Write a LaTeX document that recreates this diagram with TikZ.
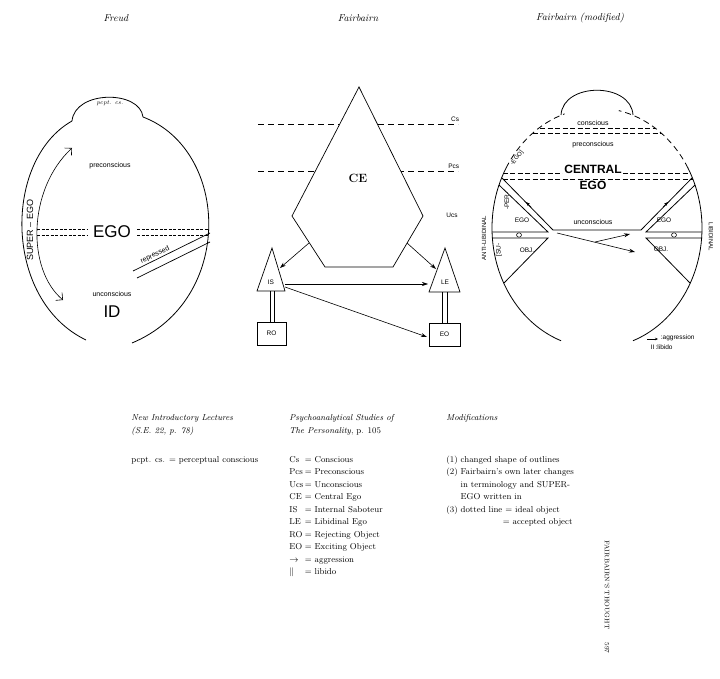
\documentclass[tikz,border=0pt]{standalone}
\usepackage{fontspec}
\setsansfont{Liberation Sans}
\usetikzlibrary{arrows.meta}
\begin{document}
\begin{tikzpicture}[x=1pt,y=-1pt,line width=0.8pt,
  lbl/.style={font=\sffamily\fontsize{6.5}{7}\selectfont,inner sep=0.5pt},
  big/.style={font=\sffamily\fontsize{17}{18}\selectfont,inner sep=1pt,fill=white},
  ttl/.style={font=\itshape\fontsize{10}{12}\selectfont},
  body/.style={font=\fontsize{8.6}{12.5}\selectfont,anchor=base west,inner sep=0pt,align=left},
  dsh/.style={dash pattern=on 6pt off 4pt},
  sdsh/.style={line width=0.6pt,dash pattern=on 3pt off 1.5pt},
  arr/.style={-{Stealth[length=6pt,width=4pt]},line width=0.6pt}]
\useasboundingbox (0,0) rectangle (720,679);
% titles
\node[ttl] (t1) at (116,18) {Freud};
\node[ttl] (t2) at (358,18) {Fairbairn};
\node[ttl] (t3) at (580,18) {Fairbairn (modified)};

% ===== Freud =====
\coordinate (fl) at (72,121); \coordinate (fr) at (143,117);
\coordinate (fbl) at (86,340); \coordinate (fbr) at (132,343);
\draw (fl) .. controls (75,90) and (140,90) .. (fr);
\draw (fl) .. controls (3,160) and (3,300) .. (fbl);
\draw (fr) .. controls (230,150) and (235,300) .. (fbr);
\node[font=\itshape\fontsize{6}{7}\selectfont] (pcpt) at (110,103) {pcpt. cs.};
\coordinate (sa) at (72,148); \coordinate (sb) at (63,300);
\draw[{Straight Barb[length=5pt]}-{Straight Barb[length=5pt]},line width=0.6pt] (sa) .. controls (27,190) and (27,270) .. (sb);
\node[lbl,font=\sffamily\fontsize{9}{10}\selectfont,rotate=90] (se) at (30,230) {SUPER -- EGO};
\node[lbl,font=\sffamily\fontsize{7}{8}\selectfont] (precs) at (110,166) {preconscious};
\draw[sdsh] (37,229) -- (88,229) (37,235) -- (88,235) (137,229) -- (209,229) (137,235) -- (209,235);
\node[big,fill=none] (ego) at (112,232) {EGO};
\draw[line width=0.7pt] (133,271) -- (210,233) (137,278) -- (210,242);
\node[lbl,font=\sffamily\fontsize{7}{8}\selectfont,rotate=26] (rep) at (155,255) {repressed};
\node[lbl,font=\sffamily\fontsize{7}{8}\selectfont] (uncs) at (112,294) {unconscious};
\node[big,fill=none] (id) at (112,312) {ID};

% ===== Fairbairn =====
\draw[dsh] (258,124) -- (458,124) (258,171) -- (458,171);
\node[lbl,anchor=south east] (cs) at (460,122) {Cs};
\node[lbl,anchor=south east] (pcs) at (460,169) {Pcs};
\node[lbl] (ucs) at (452,215) {Ucs};
\coordinate (ct) at (359,87); \coordinate (cl) at (292,216); \coordinate (cr) at (423,216);
\coordinate (cbl) at (325,267); \coordinate (cbr) at (393,267);
\draw[fill=white,line width=0.7pt] (ct) -- (cr) -- (cbr) -- (cbl) -- (cl) -- cycle;
\node[font=\bfseries\fontsize{12}{14}\selectfont] (ce) at (358,178) {CE};
\coordinate (ista) at (272,248); \coordinate (isl) at (257,291); \coordinate (isr) at (285,291);
\coordinate (lea) at (445,248); \coordinate (lel) at (429,292); \coordinate (ler) at (460,292);
\draw[line width=0.7pt] (ista) -- (isr) -- (isl) -- cycle (lea) -- (ler) -- (lel) -- cycle;
\node[lbl] (is) at (271,282) {IS};
\node[lbl] (le) at (445,282) {LE};
\node[draw,line width=0.7pt,minimum width=29pt,minimum height=23pt,lbl] (ro) at (271.5,333.5) {RO};
\node[draw,line width=0.7pt,minimum width=31pt,minimum height=23pt,lbl] (eo) at (444.5,334.5) {EO};
\draw[line width=0.6pt] (270,291) -- (270,322) (274,291) -- (274,322) (442,292) -- (442,323) (447,292) -- (447,323);
\coordinate (c1) at (309,243); \coordinate (c2) at (407,243);
\draw[arr] (c1) -- (280,268);
\draw[arr] (c2) -- (436,269);
\draw[arr] (285,284) -- (428,284);
\draw[arr] (285,287) -- (427,337);

% ===== Fairbairn modified =====
\coordinate (mbl) at (561,115); \coordinate (mbr) at (633,115);
\draw (mbl) .. controls (563,82) and (631,82) .. (mbr);
\draw (597,228) ++(70:105 and 120) arc[start angle=70,end angle=-30,x radius=105,y radius=120];
\draw (597,228) ++(110:105 and 120) arc[start angle=110,end angle=210,x radius=105,y radius=120];
\draw[dsh] (597,228) ++(-30:105 and 120) arc[start angle=-30,end angle=-78,x radius=105,y radius=120];
\draw[dsh] (597,228) ++(210:105 and 120) arc[start angle=210,end angle=252,x radius=105,y radius=120];
\begin{scope}
\clip (597,228) ellipse[x radius=105,y radius=120];
\draw[line width=0.6pt,dash pattern=on 5pt off 2.5pt] (480,128) -- (720,128) (480,133) -- (720,133) (480,173) -- (720,173) (480,179) -- (720,179);
\end{scope}
\node[lbl,font=\sffamily\fontsize{7}{8}\selectfont] (mcons) at (593,123) {conscious};
\node[lbl,font=\sffamily\fontsize{7}{8}\selectfont] (mprec) at (593,145) {preconscious};
\node[font=\sffamily\bfseries\fontsize{12}{13}\selectfont,fill=white,inner sep=1pt] (central) at (593,169) {CENTRAL};
\node[font=\sffamily\bfseries\fontsize{12}{13}\selectfont,inner sep=0pt] (mego) at (593,185) {EGO};
\draw (502,178) -- (553,230) -- (641,230) -- (692,178);
\draw (499,185) -- (548,232) -- (492,232);
\draw (492,238) -- (548,238) -- (504,283);
\draw (695,185) -- (646,232) -- (702,232);
\draw (702,238) -- (646,238) -- (690,283);
\draw[line width=0.5pt] (519,235) ellipse[x radius=2.5,y radius=2.2] (674,235) ellipse[x radius=2.5,y radius=2.2];
\draw[-{Stealth[length=4pt,width=3pt]},line width=0.5pt] (531,207) -- (526,202);
\draw[-{Stealth[length=4pt,width=3pt]},line width=0.5pt] (663,207) -- (668,202);
\node[lbl,font=\sffamily\fontsize{7}{8}\selectfont] (muncs) at (593,222) {unconscious};
\node[lbl] (lego) at (522,220) {EGO};
\node[lbl] (lobj) at (527,250) {OBJ.};
\node[lbl] (rego) at (664,220) {EGO};
\node[lbl] (robj) at (661,249) {OBJ.};
\node[lbl,font=\sffamily\fontsize{6}{7}\selectfont,rotate=52,inner sep=0pt] (egob) at (517,158) {-EGO]};
\node[lbl,rotate=90] (per) at (507,201) {-PER-};
\node[lbl,rotate=90] (su) at (499,250) {[SU-};
\node[lbl,font=\sffamily\fontsize{6}{7}\selectfont,rotate=90] (anti) at (484,238) {ANTI-LIBIDINAL};
\node[lbl,font=\sffamily\fontsize{6}{7}\selectfont,rotate=-90] (libr) at (711,237) {LIBIDINAL};
\coordinate (a1) at (557,233); \coordinate (a2) at (635,252); \coordinate (a3) at (595,242); \coordinate (a4) at (630,234);
\draw[arr] (a1) -- (a2);
\draw[arr] (a3) -- (a4);
\draw[arr,-{Stealth[length=3pt,width=2.5pt]}] (647,339) -- (658,339);
\node[lbl,anchor=west] (lagg) at (660,338) {:aggression};
\node[lbl,anchor=west] (llib) at (650,347) {II\,:libido};

% ===== lower texts =====
\node[body,font=\itshape\fontsize{8.6}{12.5}\selectfont] (n1) at (131,433) {New Introductory Lectures\\(S.E. 22, p. 78)};
\node[body] (n2) at (131,462) {pcpt. cs. = perceptual conscious};
\node[body,font=\itshape\fontsize{8.6}{12.5}\selectfont] (n3) at (289,433) {Psychoanalytical Studies of\\The Personality{\upshape, p. 105}};
\node[body] (n4) at (289,462) {\begin{tabular}[t]{@{}l@{\,}l@{}}
Cs & = Conscious\\ Pcs & = Preconscious\\ Ucs & = Unconscious\\ CE & = Central Ego\\
IS & = Internal Saboteur\\ LE & = Libidinal Ego\\ RO & = Rejecting Object\\ EO & = Exciting Object\\
$\rightarrow$ & = aggression\\ $\|$ & = libido\end{tabular}};
\node[body,font=\itshape\fontsize{8.6}{12.5}\selectfont] (n5) at (446,420) {Modifications};
\node[body] (n6) at (446,462) {\begin{tabular}[t]{@{}l@{\ }l@{}}
(1) & changed shape of outlines\\ (2) & Fairbairn's own later changes\\ & in terminology and SUPER-\\ & EGO written in\\
(3) & dotted line = ideal object\\ & \hspace{4.9em}= accepted object\end{tabular}};
\node[font=\fontsize{6.5}{7}\selectfont,rotate=-90] (foot) at (607,597) {FAIRBAIRN'S THOUGHT\qquad 597};
\end{tikzpicture}
\end{document}
